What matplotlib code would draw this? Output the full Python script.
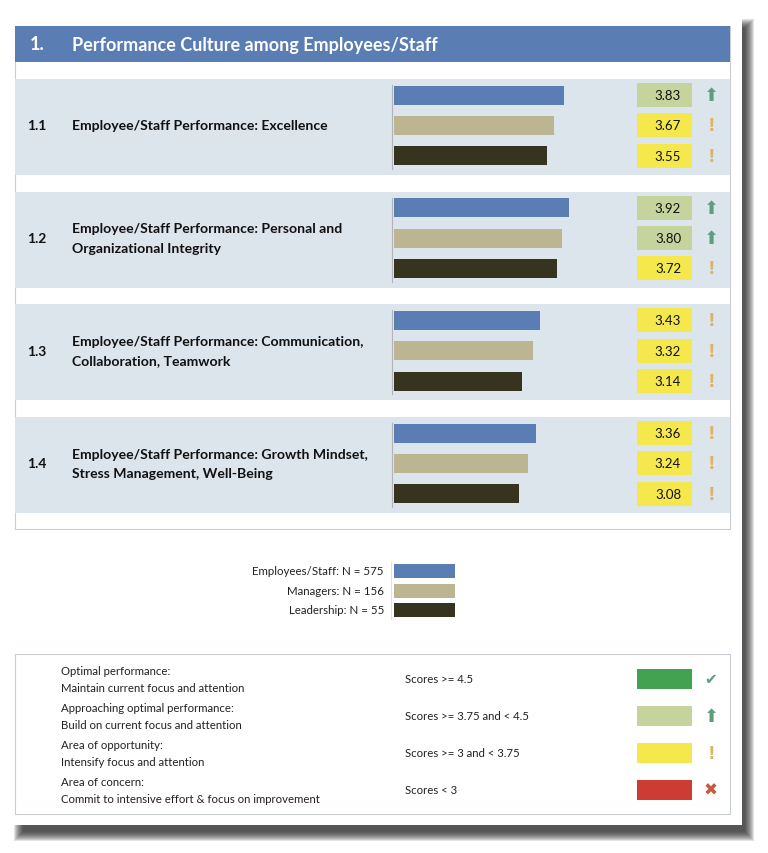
import matplotlib
matplotlib.use("Agg")
import matplotlib.pyplot as plt
from matplotlib.patches import Rectangle
from matplotlib.transforms import blended_transform_factory

# ---------------- data ----------------
section_number = "1."
section_title = "Performance Culture among Employees/Staff"
item_numbers = ["1.1", "1.2", "1.3", "1.4"]
item_labels = [
    "Employee/Staff Performance: Excellence",
    "Employee/Staff Performance: Personal and\nOrganizational Integrity",
    "Employee/Staff Performance: Communication,\nCollaboration, Teamwork",
    "Employee/Staff Performance: Growth Mindset,\nStress Management, Well-Being",
]
employees = [3.83, 3.92, 3.43, 3.36]
managers = [3.67, 3.80, 3.32, 3.24]
leadership = [3.55, 3.72, 3.14, 3.08]
series_names = ["Employees/Staff: N = 575", "Managers: N = 156", "Leadership: N = 55"]

key_titles = ["Optimal performance:", "Approaching optimal performance:",
              "Area of opportunity:", "Area of concern:"]
key_actions = ["Maintain current focus and attention", "Build on current focus and attention",
               "Intensify focus and attention", "Commit to intensive effort & focus on improvement"]
key_ranges = ["Scores >= 4.5", "Scores >= 3.75 and < 4.5", "Scores >= 3 and < 3.75", "Scores < 3"]
thresholds = [4.5, 3.75, 3.0, -1e9]

# ---------------- style ----------------
series_colors = ["#5a7db4", "#bcb592", "#36341f"]
key_colors = ["#43a152", "#c5d49c", "#f5e84c", "#cc3b34"]
icon_colors = ["#5f9d7f", "#5f9d7f", "#dcb466", "#c75a3f"]
icons = ["\u2714", "\u2B06", "!", "\u2716"]
icon_sizes = [11, 13, 12, 12]
band_color = "#dce4ec"
header_color = "#5a7db4"
FONT = "Lato"

W, H = 768, 854
fig = plt.figure(figsize=(W / 100, H / 100), dpi=100)
fig.patch.set_facecolor("white")
bg = fig.add_axes([0, 0, 1, 1])
bg.set_xlim(0, W)
bg.set_ylim(H, 0)
bg.axis("off")

# page shadow (blurred look with stacked translucent rectangles)
for d in range(10):
    bg.add_patch(Rectangle((14 + d, 20 + d), 740 - 2 * d, 822 - 2 * d,
                           facecolor="#222222", alpha=0.13, edgecolor="none", zorder=0))
bg.add_patch(Rectangle((8, 8), 734, 818, facecolor="white", edgecolor="none", zorder=1))

# outer frames
bg.add_patch(Rectangle((15, 27), 715, 503, facecolor="white", edgecolor="#c9ced4", lw=0.8, zorder=1.5))
bg.add_patch(Rectangle((15, 27), 715, 36, facecolor=header_color, edgecolor="none", zorder=2))
bg.text(30, 45, section_number, color="white", fontsize=13, fontweight="bold", family=FONT,
        va="center", ha="left", zorder=3)
bg.text(72, 45, section_title, color="white", fontsize=13, fontweight="bold", family=FONT,
        va="center", ha="left", zorder=3)

# bar axes: x from score 1 to 5, rows in unit steps
group_step = 3.72
row_px = 30.3
ax_top, ax_bot = 80, 514
ylo = -16 / row_px
yhi = ylo + (ax_bot - ax_top) / row_px
ax = fig.add_axes([394 / W, 1 - ax_bot / H, 240 / W, (ax_bot - ax_top) / H])
ax.set_xlim(1, 5)
ax.set_ylim(yhi, ylo)
ax.axis("off")
ax.patch.set_alpha(0)
ax.set_zorder(5)

tr = blended_transform_factory(bg.transData, ax.transData)

series = [employees, managers, leadership]
for g in range(len(item_numbers)):
    base = g * group_step
    top = base + ylo
    bot = base + 80 / row_px
    bg.add_patch(Rectangle((15, top), 715, bot - top, transform=tr,
                           facecolor=band_color, edgecolor="none", zorder=2))
    bg.plot([392, 392], [top + 0.2, bot - 0.2], transform=tr, color="#b0b4b8", lw=0.8, zorder=3)
    mid = base + 1
    bg.text(27, mid, item_numbers[g], transform=tr, fontsize=10, fontweight="bold",
            family=FONT, va="center", ha="left", zorder=3, color="#111111")
    bg.text(72, mid, item_labels[g], transform=tr, fontsize=10.1, fontweight="bold",
            family=FONT, va="center", ha="left", zorder=3, color="#111111", linespacing=1.75)
    for j, (vals, col) in enumerate(zip(series, series_colors)):
        v = vals[g]
        y = base + j
        ax.barh(y, v - 1, left=1, height=19 / row_px, color=col, edgecolor="none")
        k = next(i for i, t in enumerate(thresholds) if v >= t)
        bg.add_patch(Rectangle((637, y - 12 / row_px), 55, 24 / row_px, transform=tr,
                               facecolor=key_colors[k], edgecolor="none", zorder=3))
        bg.text(681, y, f"{v:.2f}", transform=tr, fontsize=9.5, family=FONT,
                va="center", ha="right", zorder=4, color="#111111")
        bg.text(711, y, icons[k], transform=tr, fontsize=icon_sizes[k],
                fontweight="bold" if k == 2 else "normal", family="DejaVu Sans",
                va="center", ha="center", color=icon_colors[k], zorder=4)

# series legend
leg_y = [572, 592, 611]
for name, col, y in zip(series_names, series_colors, leg_y):
    bg.text(384, y, name, fontsize=8.3, family=FONT, va="center", ha="right", color="#222222", zorder=3)
    bg.add_patch(Rectangle((394, y - 7), 61, 14, facecolor=col, edgecolor="none", zorder=3))
bg.plot([391, 391], [563, 620], color="#dddddd", lw=0.6, zorder=3)

# key box
bg.add_patch(Rectangle((15, 655), 715, 160, facecolor="white", edgecolor="#c9ced4", lw=0.8, zorder=2))
key_y = [680, 717, 754, 791]
for i in range(4):
    y = key_y[i]
    bg.text(61, y - 8.5, key_titles[i], fontsize=8.2, family=FONT, va="center", ha="left",
            color="#222222", zorder=3)
    bg.text(61, y + 8.5, key_actions[i], fontsize=8.2, family=FONT, va="center", ha="left",
            color="#222222", zorder=3)
    bg.text(405, y, key_ranges[i], fontsize=8.2, family=FONT, va="center", ha="left",
            color="#222222", zorder=3)
    bg.add_patch(Rectangle((637, y - 10), 55, 20, facecolor=key_colors[i], edgecolor="none", zorder=3))
    bg.text(711, y, icons[i], fontsize=icon_sizes[i],
            fontweight="bold" if i == 2 else "normal", family="DejaVu Sans",
            va="center", ha="center", color=icon_colors[i], zorder=4)

fig.savefig("out.png", dpi=100)
